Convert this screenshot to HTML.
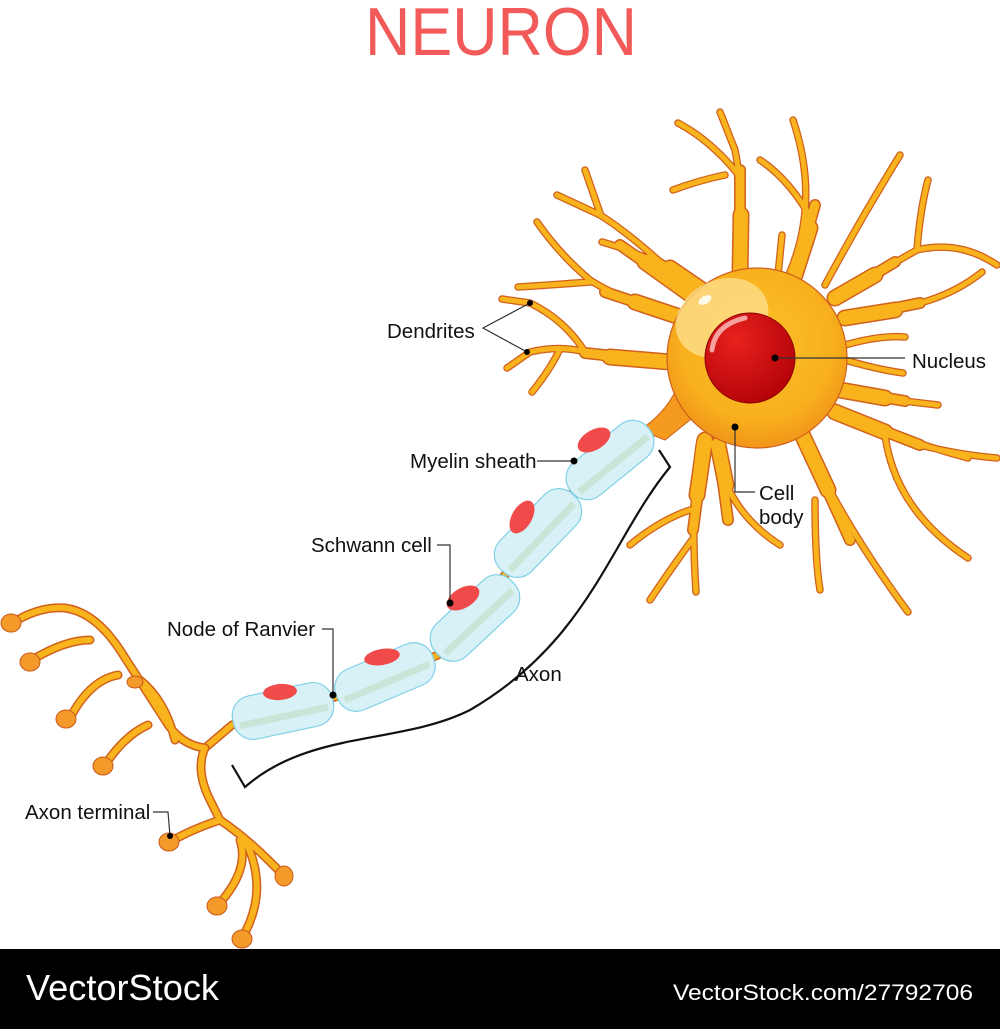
<!DOCTYPE html>
<html><head><meta charset="utf-8"><style>
html,body{margin:0;padding:0;background:#fff;}
svg{display:block;}
text{font-family:"Liberation Sans",sans-serif;}
</style></head><body>
<svg width="1000" height="1029" viewBox="0 0 1000 1029" xmlns="http://www.w3.org/2000/svg">
<defs>
<radialGradient id="body" cx="0.5" cy="0.42" r="0.6">
<stop offset="0" stop-color="#fcc22a"/><stop offset="0.7" stop-color="#f8b01d"/><stop offset="1" stop-color="#f0921a"/>
</radialGradient>
<radialGradient id="nuc" cx="0.35" cy="0.3" r="0.8">
<stop offset="0" stop-color="#e8221e"/><stop offset="1" stop-color="#b00006"/>
</radialGradient>
</defs>
<text x="365" y="55" font-size="68" fill="#f25a5a" textLength="272" lengthAdjust="spacingAndGlyphs">NEURON</text>

<g fill="none" stroke-linecap="round" stroke-linejoin="round">
<path d="M700,300 Q640,240 600,215 L557,195 M600,213 L585,170 M705,290 Q650,255 602,242 M690,320 Q620,300 590,280 Q560,255 537,222 M590,282 Q550,285 518,287 M660,362 Q610,362 585,352 Q560,345 530,352 L507,368 M560,349 Q550,370 532,392 M585,352 Q565,320 530,303 L502,299 M737,270 Q745,200 735,150 L720,112 M737,173 Q710,140 678,123 M725,175 Q700,180 673,190 M790,272 Q820,200 793,120 M812,220 Q790,180 760,160 M778,275 L782,235 M840,300 Q880,270 917,250 Q920,210 928,180 M917,250 Q960,240 997,265 M825,285 Q860,220 900,155 M845,315 Q900,310 930,300 Q960,290 982,272 M845,345 Q880,335 905,337 M845,360 Q880,370 903,373 M840,390 Q890,400 938,405 M835,410 Q900,440 968,458 M920,445 Q960,455 997,458 M885,435 Q895,510 968,558 M800,430 Q840,520 908,612 M815,500 Q815,560 820,590 M700,440 Q690,500 696,592 M690,510 Q660,520 630,545 M692,540 Q670,570 650,600 M715,445 Q725,510 780,545" stroke="#d0601c" stroke-width="7.5"/>
<path d="M705,305 L620,245 M705,292 L650,258 M695,322 L605,292 M670,362 L585,353 M740,275 L740,170 M795,275 L815,205 M835,298 L895,262 M845,318 L920,303 M840,390 L905,401 M835,412 L920,445 M800,430 L850,540 M705,440 L693,530 M718,445 L728,520" stroke="#d0601c" stroke-width="12"/>
<path d="M705,305 L645,262 M705,292 L670,268 M695,322 L635,302 M670,362 L610,357 M740,275 L741,215 M795,275 L810,228 M835,298 L875,275 M845,318 L895,310 M840,390 L885,398 M835,412 L885,432 M800,430 L828,490 M705,440 L697,495 M718,445 L726,485" stroke="#d0601c" stroke-width="17"/>
<path d="M700,300 Q640,240 600,215 L557,195 M600,213 L585,170 M705,290 Q650,255 602,242 M690,320 Q620,300 590,280 Q560,255 537,222 M590,282 Q550,285 518,287 M660,362 Q610,362 585,352 Q560,345 530,352 L507,368 M560,349 Q550,370 532,392 M585,352 Q565,320 530,303 L502,299 M737,270 Q745,200 735,150 L720,112 M737,173 Q710,140 678,123 M725,175 Q700,180 673,190 M790,272 Q820,200 793,120 M812,220 Q790,180 760,160 M778,275 L782,235 M840,300 Q880,270 917,250 Q920,210 928,180 M917,250 Q960,240 997,265 M825,285 Q860,220 900,155 M845,315 Q900,310 930,300 Q960,290 982,272 M845,345 Q880,335 905,337 M845,360 Q880,370 903,373 M840,390 Q890,400 938,405 M835,410 Q900,440 968,458 M920,445 Q960,455 997,458 M885,435 Q895,510 968,558 M800,430 Q840,520 908,612 M815,500 Q815,560 820,590 M700,440 Q690,500 696,592 M690,510 Q660,520 630,545 M692,540 Q670,570 650,600 M715,445 Q725,510 780,545" stroke="#f8b31d" stroke-width="5"/>
<path d="M705,305 L620,245 M705,292 L650,258 M695,322 L605,292 M670,362 L585,353 M740,275 L740,170 M795,275 L815,205 M835,298 L895,262 M845,318 L920,303 M840,390 L905,401 M835,412 L920,445 M800,430 L850,540 M705,440 L693,530 M718,445 L728,520" stroke="#f8b31d" stroke-width="9"/>
<path d="M705,305 L645,262 M705,292 L670,268 M695,322 L635,302 M670,362 L610,357 M740,275 L741,215 M795,275 L810,228 M835,298 L875,275 M845,318 L895,310 M840,390 L885,398 M835,412 L885,432 M800,430 L828,490 M705,440 L697,495 M718,445 L726,485" stroke="#f8b31d" stroke-width="14"/>
</g>

<path d="M640,430 Q670,410 680,380 L715,400 Q690,420 665,440 Z" fill="#f49a1f" stroke="#d0601c" stroke-width="1"/>
<circle cx="757" cy="358" r="90" fill="url(#body)" stroke="#d0601c" stroke-width="1.2"/>
<ellipse cx="722" cy="318" rx="48" ry="38" transform="rotate(-25 722 318)" fill="#fde49a" opacity="0.7"/>
<circle cx="750" cy="358" r="45" fill="url(#nuc)" stroke="#8a0000" stroke-width="1"/>
<path d="M712,350 Q715,325 745,318" stroke="#f6a0a0" stroke-width="5" fill="none" stroke-linecap="round"/>
<ellipse cx="705" cy="300" rx="7" ry="4" transform="rotate(-30 705 300)" fill="#fff" opacity="0.85"/>

<path d="M652,432 L575,490 L505,575 L438,655 L335,697 L232,725 L205,748" fill="none" stroke="#d0601c" stroke-width="9" stroke-linejoin="round"/>
<path d="M652,432 L575,490 L505,575 L438,655 L335,697 L232,725 L205,748" fill="none" stroke="#f8b31d" stroke-width="6" stroke-linejoin="round"/>

<g fill="none" stroke-linecap="round" stroke-linejoin="round">
<path d="M205,748 Q180,745 165,720 L120,650 Q95,612 65,608 Q40,606 12,623 M90,640 Q65,640 32,660 M118,675 Q90,680 70,718 M148,725 Q125,735 105,765 M140,680 Q165,700 175,740 M205,748 Q195,770 210,800 L220,820 Q190,830 170,842 M220,820 Q250,840 283,875 M240,840 Q250,870 218,905 M245,840 Q270,890 242,938" stroke="#d0601c" stroke-width="9"/>
<path d="M205,748 Q180,745 165,720 L120,650 Q95,612 65,608 Q40,606 12,623 M90,640 Q65,640 32,660 M118,675 Q90,680 70,718 M148,725 Q125,735 105,765 M140,680 Q165,700 175,740 M205,748 Q195,770 210,800 L220,820 Q190,830 170,842 M220,820 Q250,840 283,875 M240,840 Q250,870 218,905 M245,840 Q270,890 242,938" stroke="#f8b31d" stroke-width="6"/>
</g>
<g fill="#f49a2a" stroke="#c9581a" stroke-width="1">
<ellipse cx="11" cy="623" rx="10" ry="9"/><ellipse cx="30" cy="662" rx="10" ry="9"/><ellipse cx="66" cy="719" rx="10" ry="9"/><ellipse cx="103" cy="766" rx="10" ry="9"/><ellipse cx="169" cy="842" rx="10" ry="9"/><ellipse cx="284" cy="876" rx="9" ry="10"/><ellipse cx="217" cy="906" rx="10" ry="9"/><ellipse cx="242" cy="939" rx="10" ry="9"/><ellipse cx="135" cy="682" rx="8" ry="6"/>
</g>

<g>
<g transform="translate(610,460) rotate(-39)"><rect x="-50" y="-21" width="100" height="42" rx="20" fill="#d8f1f7" stroke="#7fd0e6" stroke-width="1.2"/><rect x="-44" y="2" width="88" height="7" fill="#c8e6d8"/></g>
<g transform="translate(538,533) rotate(-46)"><rect x="-52" y="-22" width="104" height="44" rx="20" fill="#d8f1f7" stroke="#7fd0e6" stroke-width="1.2"/><rect x="-46" y="2" width="92" height="7" fill="#c8e6d8"/></g>
<g transform="translate(475,618) rotate(-43)"><rect x="-52" y="-22" width="104" height="44" rx="20" fill="#d8f1f7" stroke="#7fd0e6" stroke-width="1.2"/><rect x="-46" y="2" width="92" height="7" fill="#c8e6d8"/></g>
<g transform="translate(385,677) rotate(-23)"><rect x="-52" y="-22" width="104" height="44" rx="20" fill="#d8f1f7" stroke="#7fd0e6" stroke-width="1.2"/><rect x="-46" y="2" width="92" height="7" fill="#c8e6d8"/></g>
<g transform="translate(283,711) rotate(-12)"><rect x="-51" y="-22" width="102" height="44" rx="20" fill="#d8f1f7" stroke="#7fd0e6" stroke-width="1.2"/><rect x="-45" y="2" width="90" height="7" fill="#c8e6d8"/></g>
</g>
<g fill="#f04a4a">
<ellipse cx="594" cy="440" rx="18" ry="10" transform="rotate(-30 594 440)"/>
<ellipse cx="522" cy="517" rx="18" ry="10" transform="rotate(-60 522 517)"/>
<ellipse cx="463" cy="598" rx="18" ry="10" transform="rotate(-30 463 598)"/>
<ellipse cx="382" cy="657" rx="18" ry="8" transform="rotate(-10 382 657)"/>
<ellipse cx="280" cy="692" rx="17" ry="8" transform="rotate(-5 280 692)"/>
</g>

<path d="M659,450 L670,467 C610,540 590,640 470,710 C400,745 310,730 245,787 L232,765" fill="none" stroke="#111" stroke-width="2.2"/>

<g fill="#111" font-size="20.5">
<text x="387" y="338">Dendrites</text>
<text x="912" y="368">Nucleus</text>
<text x="759" y="500">Cell</text>
<text x="759" y="524">body</text>
<text x="410" y="468">Myelin sheath</text>
<text x="311" y="552">Schwann cell</text>
<text x="167" y="636">Node of Ranvier</text>
<text x="515" y="681">Axon</text>
<text x="25" y="819">Axon terminal</text>
</g>
<g fill="none" stroke="#333" stroke-width="1.2">
<path d="M530,303 L483,328 L527,352"/>
<path d="M775,358 L905,358"/>
<path d="M735,427 L735,492 L755,492"/>
<path d="M537,461 L574,461"/>
<path d="M437,545 L450,545 L450,603"/>
<path d="M322,629 L333,629 L333,695"/>
<path d="M153,812 L168,812 L170,836"/>
</g>
<g fill="#000">
<circle cx="530" cy="303" r="3"/><circle cx="527" cy="352" r="3"/><circle cx="775" cy="358" r="3.5"/><circle cx="735" cy="427" r="3.5"/><circle cx="574" cy="461" r="3.5"/><circle cx="450" cy="603" r="3.5"/><circle cx="333" cy="695" r="3.5"/><circle cx="170" cy="836" r="3"/>
</g>

<rect x="0" y="949" width="1000" height="80" fill="#000"/>
<text x="26" y="1000" font-size="36" fill="#fff" textLength="193" lengthAdjust="spacingAndGlyphs">VectorStock</text>
<text x="673" y="1000" font-size="22" fill="#fff" textLength="300" lengthAdjust="spacingAndGlyphs">VectorStock.com/27792706</text>
</svg>
</body></html>
